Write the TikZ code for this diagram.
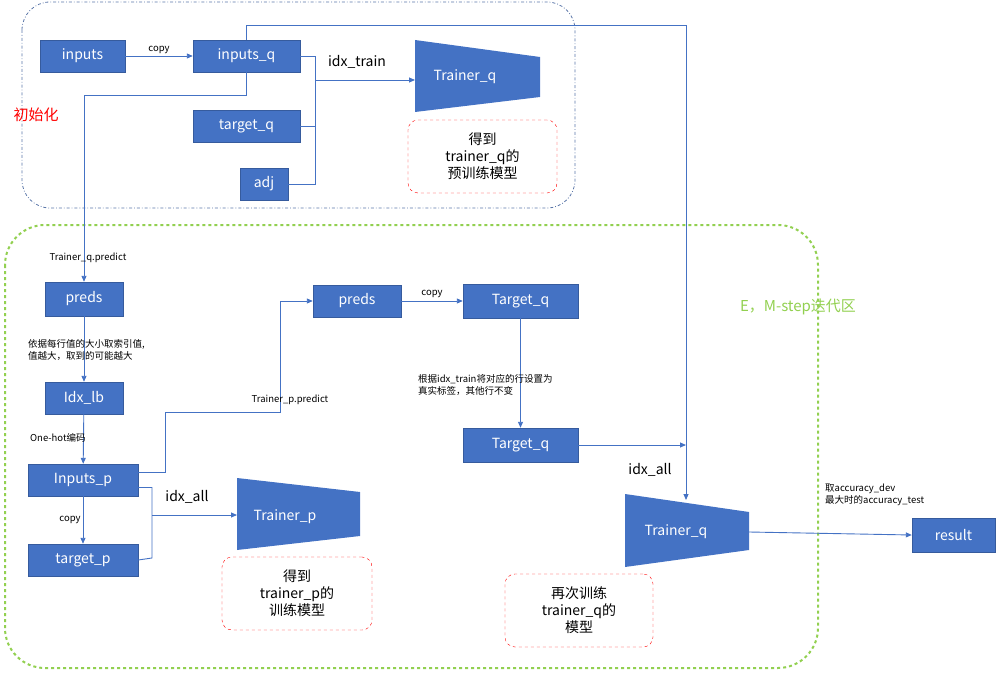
\documentclass[tikz,border=0pt]{standalone}
\usepackage{fontspec}
\setmainfont{Noto Sans CJK SC}
\usetikzlibrary{arrows.meta}
\definecolor{bx}{HTML}{4472C4}
\definecolor{gr}{HTML}{92D050}
\definecolor{rd}{HTML}{FF0000}
\begin{document}
\begin{tikzpicture}[x=1pt,y=-1pt,
 box/.style={fill=bx,draw=bx!80!black,line width=0.4pt,text=white,font=\fontsize{14}{16}\selectfont,inner sep=0pt},
 ln/.style={draw=bx,line width=0.9pt},
 ar/.style={ln,-{Triangle[length=6pt,width=5pt]}},
 sm/.style={font=\fontsize{9.5}{12}\selectfont,align=left,inner sep=0pt},
 md/.style={font=\fontsize{14}{16}\selectfont,inner sep=0pt},
 note/.style={draw=rd,dashed,rounded corners=10pt,align=center,font=\fontsize{14}{17}\selectfont,inner sep=0pt}]
\useasboundingbox (0,0) rectangle (1002,674);
% frames
\draw[draw=bx!60!gray,line width=0.8pt,dash dot,rounded corners=28pt] (22,2) rectangle (575,208);
\draw[draw=gr,line width=2pt,dashed,rounded corners=40pt] (5,225) rectangle (818,668);
\node[text=rd,font=\fontsize{15}{17}\selectfont] (init) at (36,115) {初始化};
\node[text=gr,font=\fontsize{15}{17}\selectfont] (em) at (798,307) {E，M-step迭代区};
% boxes
\node[box,minimum width=85,minimum height=32] (inputs) at (82.5,56) {inputs};
\node[box,minimum width=107,minimum height=32] (inputsq) at (246.5,56) {inputs\_q};
\node[box,minimum width=107,minimum height=32] (targetq) at (246.5,126) {target\_q};
\node[box,minimum width=48,minimum height=32] (adj) at (264,184) {adj};
\node[box,minimum width=78,minimum height=34] (preds) at (84,299) {preds};
\node[box,minimum width=78,minimum height=32] (idxlb) at (84,398) {Idx\_lb};
\node[box,minimum width=110,minimum height=32] (inputsp) at (83,480) {Inputs\_p};
\node[box,minimum width=110,minimum height=32] (targetp) at (83,560) {target\_p};
\node[box,minimum width=88,minimum height=32] (preds2) at (357,301) {preds};
\node[box,minimum width=115,minimum height=34] (Tq) at (520.5,301) {Target\_q};
\node[box,minimum width=115,minimum height=34] (Tq2) at (520.5,445) {Target\_q};
\node[box,minimum width=83,minimum height=34] (result) at (953.5,535) {result};
% trapezoids
\fill[bx] (415,40) -- (540,57) -- (540,97) -- (415,112) -- cycle;
\node[md,text=white] (trq) at (465,77) {Trainer\_q};
\coordinate (trqin) at (415,80);
\fill[bx] (237,478) -- (360,492) -- (360,536) -- (237,550) -- cycle;
\node[md,text=white] (trp) at (285,517) {Trainer\_p};
\coordinate (trpin) at (237,515);
\fill[bx] (625,494) -- (749,512) -- (749,550) -- (625,567) -- cycle;
\node[md,text=white] (trq2) at (676,532) {Trainer\_q};
\coordinate (trq2top) at (686,500);
\coordinate (trq2out) at (749,532);
% notes
\node[note,minimum width=149,minimum height=73] (n1) at (482.5,156.5) {得到\\trainer\_q的\\预训练模型};
\node[note,minimum width=150,minimum height=73] (n2) at (297,593.5) {得到\\trainer\_p的\\训练模型};
\node[note,minimum width=148,minimum height=73] (n3) at (579,610.5) {再次训练\\trainer\_q的\\模型};
% connectors top
\draw[ar] (inputs.east) -- node[sm,above=2pt]{copy} (inputsq.east-|inputsq.west);
\draw[ln] (inputsq.east) -- (315,56);
\draw[ln] (targetq.east) -- (315,126);
\draw[ln] (adj.east) -- (315,184) -- (315,56);
\draw[ar] (315,80) -- (trqin);
\node[md] (l1) at (357,62) {idx\_train};
\draw[ar] (inputsq.north) -- (246.5,25) -- (686,25) -- (trq2top);
\draw[ar] (inputsq.south) -- (246.5,95) -- (84,95) -- (preds.north);
\node[sm] (l2) at (88,258) {Trainer\_q.predict};
% lower left
\draw[ar] (preds) -- (idxlb);
\node[sm,anchor=west] (l3) at (28,350) {依据每行值的大小取索引值,\\值越大，取到的可能越大};
\draw[ar] (idxlb) -- (inputsp);
\node[sm,anchor=west] (l4) at (30,438) {One-hot编码};
\draw[ar] (inputsp) -- (targetp);
\node[sm] (l5) at (70,520) {copy};
\draw[ln] (138,487) -- (152,487);
\draw[ln] (targetp.east) -- (152,558) -- (152,487);
\draw[ar] (152,515) -- (trpin);
\node[md] (l6) at (187,497) {idx\_all};
\draw[ar] (138,472) -- (165,472) -- (165,412) -- (280,412) -- (280,301) -- (preds2.west);
\node[sm] (l7) at (290,400) {Trainer\_p.predict};
\draw[ar] (preds2) -- node[sm,above=3pt]{copy} (Tq);
\draw[ar] (Tq) -- (Tq2);
\node[sm,anchor=west] (l8) at (418,385) {根据idx\_train将对应的行设置为\\真实标签，其他行不变};
\draw[ar] (Tq2.east) -- (686,445);
\node[md] (l9) at (650,470) {idx\_all};
\draw[ar] (trq2out) -- (result.west);
\node[sm,anchor=west] (l10) at (825,495) {取accuracy\_dev\\最大时的accuracy\_test};
\end{tikzpicture}
\end{document}
